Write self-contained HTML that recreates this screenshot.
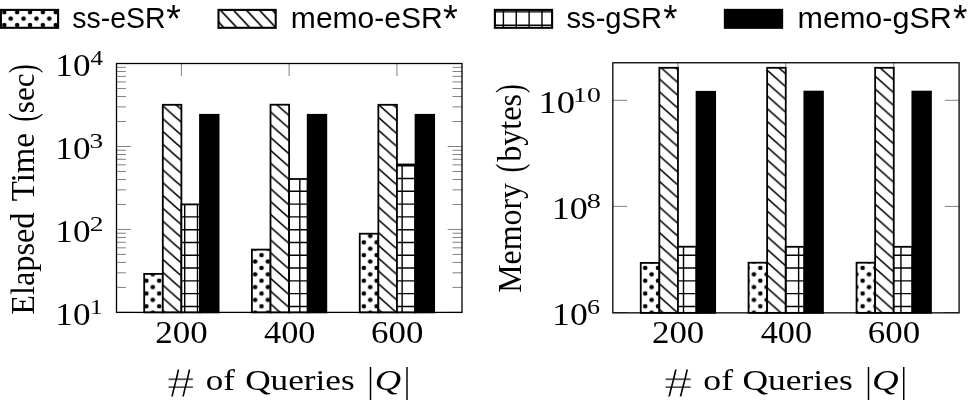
<!DOCTYPE html>
<html><head><meta charset="utf-8"><title>Elapsed time and memory vs queries</title>
<style>html,body{margin:0;padding:0;background:#fff;width:969px;height:420px;overflow:hidden}svg{display:block}</style>
</head><body>
<svg width="969" height="420" viewBox="0 0 969 420"><defs><pattern id="Cd" patternUnits="userSpaceOnUse" x="5.710" y="12.110" width="12.79" height="12.79"><circle cx="0.000" cy="0.000" r="2.3"/><circle cx="12.790" cy="0.000" r="2.3"/><circle cx="0.000" cy="12.790" r="2.3"/><circle cx="12.790" cy="12.790" r="2.3"/><circle cx="6.395" cy="6.395" r="2.3"/></pattern><pattern id="Cl" patternUnits="userSpaceOnUse" x="4.440" y="4.000" width="14.460" height="12.800"><path d="M-14.460,-12.800 L28.920,25.600 M-14.460,0 L14.460,25.600 M0,-12.800 L28.920,12.800" stroke="#000" stroke-width="1.6" fill="none"/></pattern><pattern id="Gd" patternUnits="userSpaceOnUse" x="4.300" y="12.200" width="12.86" height="12.86"><circle cx="0.000" cy="0.000" r="2.3"/><circle cx="12.860" cy="0.000" r="2.3"/><circle cx="0.000" cy="12.860" r="2.3"/><circle cx="12.860" cy="12.860" r="2.3"/><circle cx="6.430" cy="6.430" r="2.3"/></pattern><pattern id="Gl" patternUnits="userSpaceOnUse" x="0.100" y="10.800" width="13.000" height="13.900"><path d="M-13.000,-13.900 L26.000,27.800 M-13.000,0 L13.000,27.800 M0,-13.900 L26.000,13.900" stroke="#000" stroke-width="1.6" fill="none"/></pattern><pattern id="HL0" patternUnits="userSpaceOnUse" x="4.440" y="4.100" width="14.460" height="12.800"><path d="M-14.460,-12.800 L28.920,25.600 M-14.460,0 L14.460,25.600 M0,-12.800 L28.920,12.800" stroke="#000" stroke-width="1.6" fill="none"/></pattern><pattern id="HL1" patternUnits="userSpaceOnUse" x="11.020" y="10.200" width="14.460" height="12.800"><path d="M-14.460,-12.800 L28.920,25.600 M-14.460,0 L14.460,25.600 M0,-12.800 L28.920,12.800" stroke="#000" stroke-width="1.6" fill="none"/></pattern><pattern id="HL2" patternUnits="userSpaceOnUse" x="3.140" y="2.800" width="14.460" height="12.800"><path d="M-14.460,-12.800 L28.920,25.600 M-14.460,0 L14.460,25.600 M0,-12.800 L28.920,12.800" stroke="#000" stroke-width="1.6" fill="none"/></pattern><pattern id="HR0" patternUnits="userSpaceOnUse" x="9.200" y="2.700" width="14.460" height="12.800"><path d="M-14.460,-12.800 L28.920,25.600 M-14.460,0 L14.460,25.600 M0,-12.800 L28.920,12.800" stroke="#000" stroke-width="1.6" fill="none"/></pattern><pattern id="HR1" patternUnits="userSpaceOnUse" x="1.620" y="7.000" width="14.460" height="12.800"><path d="M-14.460,-12.800 L28.920,25.600 M-14.460,0 L14.460,25.600 M0,-12.800 L28.920,12.800" stroke="#000" stroke-width="1.6" fill="none"/></pattern><pattern id="HR2" patternUnits="userSpaceOnUse" x="8.400" y="0.200" width="14.460" height="12.800"><path d="M-14.460,-12.800 L28.920,25.600 M-14.460,0 L14.460,25.600 M0,-12.800 L28.920,12.800" stroke="#000" stroke-width="1.6" fill="none"/></pattern></defs><rect width="969" height="420" fill="#fff"/><path d="M116.50,287.42h9.4M462.00,287.42h-9.4M116.50,272.81h9.4M462.00,272.81h-9.4M116.50,262.45h9.4M462.00,262.45h-9.4M116.50,254.41h9.4M462.00,254.41h-9.4M116.50,247.84h9.4M462.00,247.84h-9.4M116.50,242.29h9.4M462.00,242.29h-9.4M116.50,237.47h9.4M462.00,237.47h-9.4M116.50,233.23h9.4M462.00,233.23h-9.4M116.50,204.46h9.4M462.00,204.46h-9.4M116.50,189.85h9.4M462.00,189.85h-9.4M116.50,179.48h9.4M462.00,179.48h-9.4M116.50,171.44h9.4M462.00,171.44h-9.4M116.50,164.87h9.4M462.00,164.87h-9.4M116.50,159.32h9.4M462.00,159.32h-9.4M116.50,154.51h9.4M462.00,154.51h-9.4M116.50,150.26h9.4M462.00,150.26h-9.4M116.50,121.49h9.4M462.00,121.49h-9.4M116.50,106.88h9.4M462.00,106.88h-9.4M116.50,96.52h9.4M462.00,96.52h-9.4M116.50,88.48h9.4M462.00,88.48h-9.4M116.50,81.91h9.4M462.00,81.91h-9.4M116.50,76.35h9.4M462.00,76.35h-9.4M116.50,71.54h9.4M462.00,71.54h-9.4M116.50,67.30h9.4M462.00,67.30h-9.4M116.50,312.40h14.3M462.00,312.40h-14.3M116.50,229.43h14.3M462.00,229.43h-14.3M116.50,146.47h14.3M462.00,146.47h-14.3M116.50,63.50h14.3M462.00,63.50h-14.3M181.40,63.50v12.5M181.40,312.40v-12.5M289.10,63.50v12.5M289.10,312.40v-12.5M396.95,63.50v12.5M396.95,312.40v-12.5" stroke="#000" stroke-width="0.5" fill="none"/><rect x="144.20" y="273.90" width="18.60" height="38.50" fill="#fff"/><rect x="144.20" y="273.90" width="18.60" height="38.50" fill="url(#Cd)" stroke="#000" stroke-width="1.8"/><rect x="162.80" y="104.80" width="18.60" height="207.60" fill="#fff"/><rect x="162.80" y="104.80" width="18.60" height="207.60" fill="url(#HL0)" stroke="#000" stroke-width="1.8"/><rect x="181.40" y="204.40" width="18.60" height="108.00" fill="#fff"/><path d="M184.7,204.40V312.40M197.49,204.40V312.40M181.40,216.9H200.00M181.40,229.69H200.00M181.40,242.48H200.00M181.40,255.27H200.00M181.40,268.06H200.00M181.40,280.85H200.00M181.40,293.64H200.00M181.40,306.43H200.00" stroke="#000" stroke-width="1.4" fill="none"/><rect x="181.40" y="204.40" width="18.60" height="108.00" fill="none" stroke="#000" stroke-width="1.8"/><rect x="200.00" y="114.80" width="18.60" height="197.60" fill="#000" stroke="#000" stroke-width="1.8"/><rect x="251.90" y="249.60" width="18.60" height="62.80" fill="#fff"/><rect x="251.90" y="249.60" width="18.60" height="62.80" fill="url(#Cd)" stroke="#000" stroke-width="1.8"/><rect x="270.50" y="104.70" width="18.60" height="207.70" fill="#fff"/><rect x="270.50" y="104.70" width="18.60" height="207.70" fill="url(#HL1)" stroke="#000" stroke-width="1.8"/><rect x="289.10" y="179.00" width="18.60" height="133.40" fill="#fff"/><path d="M299.81,179.00V312.40M289.10,191.32H307.70M289.10,204.11H307.70M289.10,216.9H307.70M289.10,229.69H307.70M289.10,242.48H307.70M289.10,255.27H307.70M289.10,268.06H307.70M289.10,280.85H307.70M289.10,293.64H307.70M289.10,306.43H307.70" stroke="#000" stroke-width="1.4" fill="none"/><rect x="289.10" y="179.00" width="18.60" height="133.40" fill="none" stroke="#000" stroke-width="1.8"/><rect x="307.70" y="114.80" width="18.60" height="197.60" fill="#000" stroke="#000" stroke-width="1.8"/><rect x="359.75" y="233.70" width="18.60" height="78.70" fill="#fff"/><rect x="359.75" y="233.70" width="18.60" height="78.70" fill="url(#Cd)" stroke="#000" stroke-width="1.8"/><rect x="378.35" y="104.80" width="18.60" height="207.60" fill="#fff"/><rect x="378.35" y="104.80" width="18.60" height="207.60" fill="url(#HL2)" stroke="#000" stroke-width="1.8"/><rect x="396.95" y="164.50" width="18.60" height="147.90" fill="#fff"/><path d="M402.13,164.50V312.40M414.92,164.50V312.40M396.95,165.74H415.55M396.95,178.53H415.55M396.95,191.32H415.55M396.95,204.11H415.55M396.95,216.9H415.55M396.95,229.69H415.55M396.95,242.48H415.55M396.95,255.27H415.55M396.95,268.06H415.55M396.95,280.85H415.55M396.95,293.64H415.55M396.95,306.43H415.55" stroke="#000" stroke-width="1.4" fill="none"/><rect x="396.95" y="164.50" width="18.60" height="147.90" fill="none" stroke="#000" stroke-width="1.8"/><rect x="415.55" y="114.80" width="18.60" height="197.60" fill="#000" stroke="#000" stroke-width="1.8"/><rect x="116.5" y="63.5" width="345.50" height="248.90" fill="none" stroke="#000" stroke-width="1.3"/><path d="M612.85,312.50h14.3M959.10,312.50h-14.3M612.85,206.40h14.3M959.10,206.40h-14.3M612.85,100.30h14.3M959.10,100.30h-14.3M677.95,62.75v12.5M677.95,312.85v-12.5M785.75,62.75v12.5M785.75,312.85v-12.5M893.75,62.75v12.5M893.75,312.85v-12.5" stroke="#000" stroke-width="0.5" fill="none"/><rect x="640.75" y="262.90" width="18.60" height="49.95" fill="#fff"/><rect x="640.75" y="262.90" width="18.60" height="49.95" fill="url(#Cd)" stroke="#000" stroke-width="1.8"/><rect x="659.35" y="67.80" width="18.60" height="245.05" fill="#fff"/><rect x="659.35" y="67.80" width="18.60" height="245.05" fill="url(#HR0)" stroke="#000" stroke-width="1.8"/><rect x="677.95" y="246.70" width="18.60" height="66.15" fill="#fff"/><path d="M683.51,246.70V312.85M696.3,246.70V312.85M677.95,255.27H696.55M677.95,268.06H696.55M677.95,280.85H696.55M677.95,293.64H696.55M677.95,306.43H696.55" stroke="#000" stroke-width="1.4" fill="none"/><rect x="677.95" y="246.70" width="18.60" height="66.15" fill="none" stroke="#000" stroke-width="1.8"/><rect x="696.55" y="91.80" width="18.60" height="221.05" fill="#000" stroke="#000" stroke-width="1.8"/><rect x="748.55" y="262.70" width="18.60" height="50.15" fill="#fff"/><rect x="748.55" y="262.70" width="18.60" height="50.15" fill="url(#Cd)" stroke="#000" stroke-width="1.8"/><rect x="767.15" y="67.80" width="18.60" height="245.05" fill="#fff"/><rect x="767.15" y="67.80" width="18.60" height="245.05" fill="url(#HR1)" stroke="#000" stroke-width="1.8"/><rect x="785.75" y="246.80" width="18.60" height="66.05" fill="#fff"/><path d="M785.83,246.80V312.85M798.62,246.80V312.85M785.75,255.27H804.35M785.75,268.06H804.35M785.75,280.85H804.35M785.75,293.64H804.35M785.75,306.43H804.35" stroke="#000" stroke-width="1.4" fill="none"/><rect x="785.75" y="246.80" width="18.60" height="66.05" fill="none" stroke="#000" stroke-width="1.8"/><rect x="804.35" y="91.60" width="18.60" height="221.25" fill="#000" stroke="#000" stroke-width="1.8"/><rect x="856.55" y="262.70" width="18.60" height="50.15" fill="#fff"/><rect x="856.55" y="262.70" width="18.60" height="50.15" fill="url(#Cd)" stroke="#000" stroke-width="1.8"/><rect x="875.15" y="67.80" width="18.60" height="245.05" fill="#fff"/><rect x="875.15" y="67.80" width="18.60" height="245.05" fill="url(#HR2)" stroke="#000" stroke-width="1.8"/><rect x="893.75" y="246.80" width="18.60" height="66.05" fill="#fff"/><path d="M900.94,246.80V312.85M893.75,255.27H912.35M893.75,268.06H912.35M893.75,280.85H912.35M893.75,293.64H912.35M893.75,306.43H912.35" stroke="#000" stroke-width="1.4" fill="none"/><rect x="893.75" y="246.80" width="18.60" height="66.05" fill="none" stroke="#000" stroke-width="1.8"/><rect x="912.35" y="91.60" width="18.60" height="221.25" fill="#000" stroke="#000" stroke-width="1.8"/><rect x="612.85" y="62.75" width="346.25" height="250.10" fill="none" stroke="#000" stroke-width="1.3"/><rect x="0.90" y="9.90" width="57.20" height="17.90" fill="#fff"/><rect x="0.90" y="9.90" width="57.20" height="17.90" fill="url(#Gd)" stroke="#000" stroke-width="2.1"/><rect x="218.50" y="9.90" width="57.20" height="17.90" fill="#fff"/><rect x="218.50" y="9.90" width="57.20" height="17.90" fill="url(#Gl)" stroke="#000" stroke-width="2.1"/><rect x="494.90" y="9.90" width="57.20" height="17.90" fill="#fff"/><path d="M503.4,9.90V27.80M516.26,9.90V27.80M529.12,9.90V27.80M541.98,9.90V27.80M494.90,11.9H552.10M494.90,25.2H552.10" stroke="#000" stroke-width="1.4" fill="none"/><rect x="494.90" y="9.90" width="57.20" height="17.90" fill="none" stroke="#000" stroke-width="2.1"/><rect x="724.90" y="9.90" width="57.20" height="17.90" fill="#000" stroke="#000" stroke-width="2.1"/><text id="leg1" x="72.37" y="28.00" textLength="93.30" lengthAdjust="spacingAndGlyphs" style="font-family:'Liberation Sans',sans-serif;font-size:29px;">ss-eSR</text><text id="leg2" x="290.89" y="28.00" textLength="151.87" lengthAdjust="spacingAndGlyphs" style="font-family:'Liberation Sans',sans-serif;font-size:29px;">memo-eSR</text><text id="leg3" x="566.58" y="28.00" textLength="95.34" lengthAdjust="spacingAndGlyphs" style="font-family:'Liberation Sans',sans-serif;font-size:29px;">ss-gSR</text><text id="leg4" x="797.60" y="28.00" textLength="154.15" lengthAdjust="spacingAndGlyphs" style="font-family:'Liberation Sans',sans-serif;font-size:29px;">memo-gSR</text><text id="lst1" x="166.21" y="32.20" textLength="14.64" lengthAdjust="spacingAndGlyphs" style="font-family:'Liberation Sans',sans-serif;font-size:38px;">*</text><text id="lst2" x="443.12" y="32.20" textLength="14.87" lengthAdjust="spacingAndGlyphs" style="font-family:'Liberation Sans',sans-serif;font-size:38px;">*</text><text id="lst3" x="663.14" y="32.20" textLength="14.17" lengthAdjust="spacingAndGlyphs" style="font-family:'Liberation Sans',sans-serif;font-size:38px;">*</text><text id="lst4" x="952.89" y="32.20" textLength="14.40" lengthAdjust="spacingAndGlyphs" style="font-family:'Liberation Sans',sans-serif;font-size:38px;">*</text><text id="yl1" x="55.37" y="324.70" textLength="35.20" lengthAdjust="spacingAndGlyphs" style="font-family:'Liberation Serif',serif;font-size:30.5px;">10</text><text id="yl2" x="55.37" y="241.73" textLength="35.20" lengthAdjust="spacingAndGlyphs" style="font-family:'Liberation Serif',serif;font-size:30.5px;">10</text><text id="yl3" x="55.37" y="158.77" textLength="35.20" lengthAdjust="spacingAndGlyphs" style="font-family:'Liberation Serif',serif;font-size:30.5px;">10</text><text id="yl4" x="55.37" y="75.80" textLength="35.20" lengthAdjust="spacingAndGlyphs" style="font-family:'Liberation Serif',serif;font-size:30.5px;">10</text><text id="ys1" x="89.98" y="313.60" textLength="12.66" lengthAdjust="spacingAndGlyphs" style="font-family:'Liberation Serif',serif;font-size:21px;">1</text><text id="ys2" x="89.85" y="230.63" textLength="13.74" lengthAdjust="spacingAndGlyphs" style="font-family:'Liberation Serif',serif;font-size:21px;">2</text><text id="ys3" x="89.59" y="147.67" textLength="13.63" lengthAdjust="spacingAndGlyphs" style="font-family:'Liberation Serif',serif;font-size:21px;">3</text><text id="ys4" x="90.51" y="64.70" textLength="12.50" lengthAdjust="spacingAndGlyphs" style="font-family:'Liberation Serif',serif;font-size:21px;">4</text><text id="yr10" x="538.56" y="112.60" textLength="36.58" lengthAdjust="spacingAndGlyphs" style="font-family:'Liberation Serif',serif;font-size:30.5px;">10</text><text id="yr8" x="551.66" y="218.70" textLength="36.14" lengthAdjust="spacingAndGlyphs" style="font-family:'Liberation Serif',serif;font-size:30.5px;">10</text><text id="yr6" x="552.12" y="324.80" textLength="35.65" lengthAdjust="spacingAndGlyphs" style="font-family:'Liberation Serif',serif;font-size:30.5px;">10</text><text id="ysr10" x="573.03" y="101.50" textLength="27.73" lengthAdjust="spacingAndGlyphs" style="font-family:'Liberation Serif',serif;font-size:21px;">10</text><text id="ysr8" x="586.65" y="207.60" textLength="14.13" lengthAdjust="spacingAndGlyphs" style="font-family:'Liberation Serif',serif;font-size:21px;">8</text><text id="ysr6" x="586.93" y="313.70" textLength="13.03" lengthAdjust="spacingAndGlyphs" style="font-family:'Liberation Serif',serif;font-size:21px;">6</text><text id="xl200" x="155.38" y="342.80" textLength="52.47" lengthAdjust="spacingAndGlyphs" style="font-family:'Liberation Serif',serif;font-size:30.5px;">200</text><text id="xl400" x="264.05" y="342.80" textLength="51.49" lengthAdjust="spacingAndGlyphs" style="font-family:'Liberation Serif',serif;font-size:30.5px;">400</text><text id="xl600" x="371.13" y="342.80" textLength="52.30" lengthAdjust="spacingAndGlyphs" style="font-family:'Liberation Serif',serif;font-size:30.5px;">600</text><text id="xr200" x="651.98" y="342.80" textLength="52.23" lengthAdjust="spacingAndGlyphs" style="font-family:'Liberation Serif',serif;font-size:30.5px;">200</text><text id="xr400" x="760.71" y="342.80" textLength="51.48" lengthAdjust="spacingAndGlyphs" style="font-family:'Liberation Serif',serif;font-size:30.5px;">400</text><text id="xr600" x="867.77" y="342.80" textLength="52.46" lengthAdjust="spacingAndGlyphs" style="font-family:'Liberation Serif',serif;font-size:30.5px;">600</text><text id="xaL1" x="167.07" y="396.50" textLength="27.40" lengthAdjust="spacingAndGlyphs" style="font-family:'Liberation Serif',serif;font-size:42px;stroke:#fff;stroke-width:0.8px">#</text><text id="xaL2" x="205.70" y="390.30" textLength="29.15" lengthAdjust="spacingAndGlyphs" style="font-family:'Liberation Serif',serif;font-size:30px;">of</text><text id="xaL3" x="245.15" y="390.30" textLength="109.48" lengthAdjust="spacingAndGlyphs" style="font-family:'Liberation Serif',serif;font-size:30px;">Queries</text><text id="xaL4" transform="translate(367.52,391.70) scale(1,1.2)" style="font-family:'Liberation Serif',serif;font-size:30px;">|</text><text id="xaL5" x="374.69" y="390.30" textLength="26.40" lengthAdjust="spacingAndGlyphs" style="font-family:'Liberation Serif',serif;font-size:30px;font-style:italic">Q</text><text id="xaL6" transform="translate(403.88,391.70) scale(1,1.2)" style="font-family:'Liberation Serif',serif;font-size:30px;">|</text><text id="xaR1" x="664.02" y="396.50" textLength="28.22" lengthAdjust="spacingAndGlyphs" style="font-family:'Liberation Serif',serif;font-size:42px;stroke:#fff;stroke-width:0.8px">#</text><text id="xaR2" x="703.33" y="390.30" textLength="29.69" lengthAdjust="spacingAndGlyphs" style="font-family:'Liberation Serif',serif;font-size:30px;">of</text><text id="xaR3" x="742.53" y="390.30" textLength="110.22" lengthAdjust="spacingAndGlyphs" style="font-family:'Liberation Serif',serif;font-size:30px;">Queries</text><text id="xaR4" transform="translate(865.60,391.70) scale(1,1.2)" style="font-family:'Liberation Serif',serif;font-size:30px;">|</text><text id="xaR5" x="872.11" y="390.30" textLength="26.67" lengthAdjust="spacingAndGlyphs" style="font-family:'Liberation Serif',serif;font-size:30px;font-style:italic">Q</text><text id="xaR6" transform="translate(900.76,391.70) scale(1,1.2)" style="font-family:'Liberation Serif',serif;font-size:30px;">|</text><text id="yaL1" transform="translate(33.90,314.72) rotate(-90)" textLength="102.11" lengthAdjust="spacingAndGlyphs" style="font-family:'Liberation Serif',serif;font-size:33px;">Elapsed</text><text id="yaL2" transform="translate(33.90,201.26) rotate(-90)" textLength="68.08" lengthAdjust="spacingAndGlyphs" style="font-family:'Liberation Serif',serif;font-size:33px;">Time</text><text id="yaL3a" transform="translate(35.20,121.59) rotate(-90)" textLength="8.29" lengthAdjust="spacingAndGlyphs" style="font-family:'Liberation Serif',serif;font-size:38px;">(</text><text id="yaL3b" transform="translate(33.90,113.15) rotate(-90)" textLength="39.54" lengthAdjust="spacingAndGlyphs" style="font-family:'Liberation Serif',serif;font-size:31px;">sec</text><text id="yaL3c" transform="translate(35.20,73.06) rotate(-90)" textLength="8.61" lengthAdjust="spacingAndGlyphs" style="font-family:'Liberation Serif',serif;font-size:38px;">)</text><text id="yaR1" transform="translate(520.80,292.85) rotate(-90)" textLength="109.93" lengthAdjust="spacingAndGlyphs" style="font-family:'Liberation Serif',serif;font-size:33px;">Memory</text><text id="yaR2a" transform="translate(521.90,172.24) rotate(-90)" textLength="8.48" lengthAdjust="spacingAndGlyphs" style="font-family:'Liberation Serif',serif;font-size:38px;">(</text><text id="yaR2b" transform="translate(520.80,161.83) rotate(-90)" textLength="67.94" lengthAdjust="spacingAndGlyphs" style="font-family:'Liberation Serif',serif;font-size:33px;">bytes</text><text id="yaR2c" transform="translate(521.90,93.06) rotate(-90)" textLength="8.67" lengthAdjust="spacingAndGlyphs" style="font-family:'Liberation Serif',serif;font-size:38px;">)</text></svg>
</body></html>
